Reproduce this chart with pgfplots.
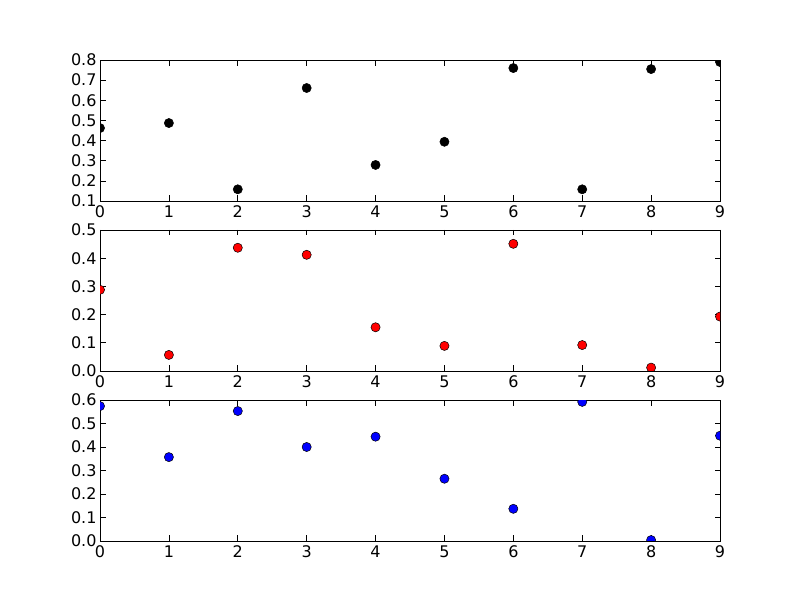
\documentclass[border=0pt]{standalone}
\usepackage{pgfplots}
\pgfplotsset{compat=1.18}
\usepackage{fontspec}
\setmainfont{DejaVu Sans}

\pgfplotsset{
  panel/.style={
    width=620pt, height=141pt, scale only axis,
    xmin=0, xmax=9, xtick={0,1,...,9},
    clip marker paths=true,
    tick align=inside, major tick length=5.5pt,
    axis line style={line width=0.9pt},
    tick style={line width=0.7pt, black},
    ticklabel style={font=\fontsize{16}{18}\selectfont},
    /pgf/number format/assume math mode=true,
    yticklabel style={/pgf/number format/.cd, fixed, fixed zerofill, precision=1},
    xticklabel style={yshift=-1pt},
  },
  pts/.style={only marks, mark=*, mark size=4.6pt,
    mark options={draw=black, fill=#1, line width=0.5pt}},
}

\begin{document}
\begin{tikzpicture}
\path[use as bounding box] (0,0) rectangle (800pt,602pt);

\begin{axis}[panel, at={(100pt,401pt)}, anchor=south west,
  ymin=0.1, ymax=0.8, ytick={0.1,0.2,0.3,0.4,0.5,0.6,0.7,0.8}]
\addplot[pts=black] coordinates {
(0,0.462) (1,0.487) (2,0.158) (3,0.661) (4,0.279)
(5,0.394) (6,0.760) (7,0.158) (8,0.755) (9,0.790)};
\end{axis}

\begin{axis}[panel, at={(100pt,231pt)}, anchor=south west,
  ymin=0, ymax=0.5, ytick={0,0.1,0.2,0.3,0.4,0.5}]
\addplot[pts=red] coordinates {
(0,0.288) (1,0.057) (2,0.437) (3,0.412) (4,0.155)
(5,0.089) (6,0.451) (7,0.092) (8,0.012) (9,0.193)};
\end{axis}

\begin{axis}[panel, at={(100pt,61pt)}, anchor=south west,
  ymin=0, ymax=0.6, ytick={0,0.1,0.2,0.3,0.4,0.5,0.6}]
\addplot[pts=blue] coordinates {
(0,0.574) (1,0.357) (2,0.553) (3,0.400) (4,0.444)
(5,0.265) (6,0.137) (7,0.592) (8,0.004) (9,0.448)};
\end{axis}
\end{tikzpicture}
\end{document}
